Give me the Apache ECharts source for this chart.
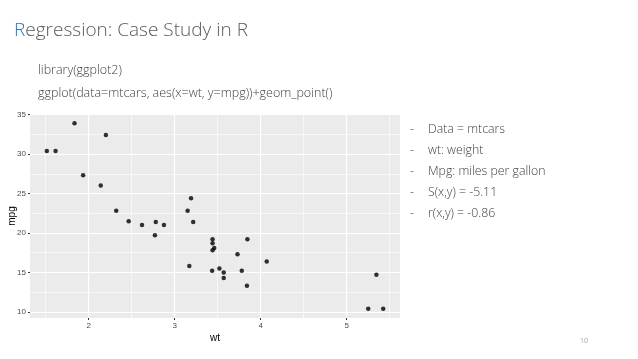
<!DOCTYPE html>
<html><head><meta charset="utf-8">
<script src="https://cdn.jsdelivr.net/npm/echarts@6/dist/echarts.min.js"></script>
<style>html,body{margin:0;padding:0;background:#fff}#c{width:638px;height:359px}</style>
</head><body><div id="c"></div>
<script>
// mtcars: wt (x) and mpg (y)
const wt = [2.620,2.875,2.320,3.215,3.440,3.460,3.570,3.190,3.150,3.440,3.440,4.070,3.730,3.780,5.250,5.424,5.345,2.200,1.615,1.835,2.465,3.520,3.435,3.840,3.845,1.935,2.140,1.513,3.170,2.770,3.570,2.780];
const mpg = [21.0,21.0,22.8,21.4,18.7,18.1,14.3,24.4,22.8,19.2,17.8,16.4,17.3,15.2,10.4,10.4,14.7,32.4,30.4,33.9,21.5,15.5,15.2,13.3,19.2,27.3,26.0,30.4,15.8,19.7,15.0,21.4];
const xMajor = [2,3,4,5];
const xMinor = [1.5,2.5,3.5,4.5,5.5];
const yMajor = [10,15,20,25,30,35];
const yMinor = [12.5,17.5,22.5,27.5,32.5];
const bullets = ['Data = mtcars','wt: weight','Mpg: miles per gallon','S(x,y) = -5.11','r(x,y) = -0.86'];

const xMin = 1.3175, xMax = 5.6195, yMin = 9.225, yMax = 35.075;
const FONT = '"Open Sans", "Noto Sans", sans-serif';
const AXF = 'Liberation Sans, Arial, sans-serif';
const chart = echarts.init(document.getElementById('c'));

const textColor = '#404040';
const graphics = [
  {type:'text', left:14, top:21, style:{
    text:'{b|R}egression: Case Study in R', fill:'#595959', fontSize:19, fontFamily:FONT, fontWeight:300,
    rich:{b:{fill:'#2E75B6', fontSize:19, fontFamily:FONT, fontWeight:300}}}},
  {type:'text', left:38, top:64, style:{text:'library(ggplot2)', fill:textColor, fontSize:12.5, fontFamily:FONT, fontWeight:300}},
  {type:'text', left:38, top:87, style:{text:'ggplot(data=mtcars, aes(x=wt, y=mpg))+geom_point()', fill:textColor, fontSize:12.5, fontFamily:FONT, fontWeight:300}},
  {type:'text', left:580, top:337, style:{text:'10', fill:'#A6A6A6', fontSize:7, fontFamily:FONT}}
];
bullets.forEach((b,i)=>{
  const y = 123 + i*21.2;
  graphics.push({type:'text', left:410, top:y, style:{text:'-', fill:textColor, fontSize:12.3, fontFamily:FONT, fontWeight:300}});
  graphics.push({type:'text', left:428, top:y, style:{text:b, fill:textColor, fontSize:12.3, fontFamily:FONT, fontWeight:300}});
});

function gl(axis, vals, w) {
  return vals.map(v => ({[axis]: v, lineStyle:{color:'#ffffff', width:w, type:'solid'}}));
}

chart.setOption({
  animation:false,
  backgroundColor:'#ffffff',
  grid:{left:30, top:114, width:370, height:204, show:true, backgroundColor:'#EBEBEB', borderWidth:0,
        containLabel:false, outerBoundsMode:'none'},
  xAxis:{
    type:'value', min:xMin, max:xMax,
    name:'wt', nameLocation:'middle', nameGap:15, nameMoveOverlap:false,
    nameTextStyle:{color:'#000', fontSize:10, fontFamily:AXF},
    axisLine:{show:false},
    axisTick:{show:true, customValues:xMajor, length:2, lineStyle:{color:'#333', width:1}},
    axisLabel:{show:true, customValues:xMajor, color:'#4D4D4D', fontSize:8, margin:4, fontFamily:AXF},
    splitLine:{show:false}
  },
  yAxis:{
    type:'value', min:yMin, max:yMax,
    name:'mpg', nameLocation:'middle', nameGap:13, nameRotate:90, nameMoveOverlap:false,
    nameTextStyle:{color:'#000', fontSize:10, fontFamily:AXF},
    axisLine:{show:false},
    axisTick:{show:true, customValues:yMajor, length:2, lineStyle:{color:'#333', width:1}},
    axisLabel:{show:true, customValues:yMajor, color:'#4D4D4D', fontSize:8, margin:4, fontFamily:AXF},
    splitLine:{show:false}
  },
  graphic:graphics,
  series:[{
    type:'scatter',
    data: wt.map((w,i)=>[w, mpg[i]]),
    symbolSize:4.5, itemStyle:{color:'#000'}, silent:true, z:3,
    markLine:{
      silent:true, symbol:'none', animation:false, z:1,
      label:{show:false},
      emphasis:{disabled:true},
      data:[].concat(gl('xAxis', xMinor, 0.6), gl('yAxis', yMinor, 0.6), gl('xAxis', xMajor, 1.2), gl('yAxis', yMajor, 1.2))
    }
  }]
});
</script></body></html>
